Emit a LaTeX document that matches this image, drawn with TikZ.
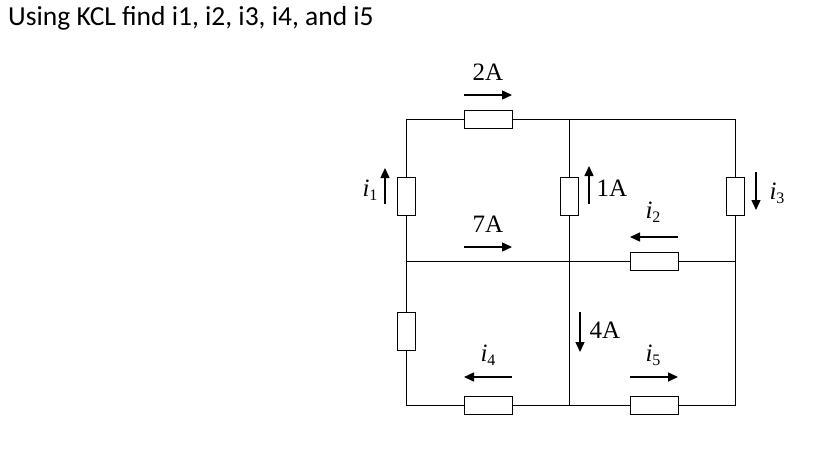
\documentclass[tikz,border=0pt]{standalone}
\usepackage{fontspec}
\setmainfont{Liberation Serif}
\newfontfamily\titlefont{Carlito}
\usetikzlibrary{arrows.meta}
\newcommand{\cursym}[1]{{\itshape i}\raisebox{-4pt}{\fontsize{16}{18}\selectfont #1}}
\begin{document}
\begin{tikzpicture}[x=1pt,y=-1pt,
  wire/.style={line width=0.8pt},
  resh/.style={draw,line width=0.8pt,fill=white,minimum width=48pt,minimum height=18pt,inner sep=0pt},
  resv/.style={draw,line width=0.8pt,fill=white,minimum width=18pt,minimum height=38pt,inner sep=0pt},
  cur/.style={-{Triangle[length=10pt,width=9pt]},line width=1.4pt},
  lab/.style={font=\fontsize{25}{28}\selectfont,inner sep=0pt}]
\useasboundingbox (0,0) rectangle (816,476);
\node[anchor=west,inner sep=0pt,font=\titlefont\fontsize{27.5}{32}\selectfont] (title) at (8,18) {Using KCL find i1, i2, i3, i4, and i5};
\coordinate (TL) at (406,119); \coordinate (TM) at (569,119); \coordinate (TR) at (735,119);
\coordinate (ML) at (406,261); \coordinate (MM) at (569,261); \coordinate (MR) at (735,261);
\coordinate (BL) at (406,405); \coordinate (BM) at (569,405); \coordinate (BR) at (735,405);
\draw[wire] (TL)--(TR)--(BR)--(BL)--cycle;
\draw[wire] (TM)--(BM); \draw[wire] (ML)--(MR);
\node[resh] (r1) at (488,119) {};
\node[resv] (r2) at (406,196) {};
\node[resv] (r3) at (569,196) {};
\node[resv] (r4) at (735,196) {};
\node[resh] (r5) at (654,261) {};
\node[resv] (r6) at (406,331) {};
\node[resh] (r7) at (488,405) {};
\node[resh] (r8) at (654,405) {};
\coordinate (a1s) at (464,95); \coordinate (a1e) at (512,95); \draw[cur] (a1s)--(a1e);
\node[lab] (l2A) at (488,72) {2A};
\coordinate (a2s) at (464,247); \coordinate (a2e) at (512,247); \draw[cur] (a2s)--(a2e);
\node[lab] (l7A) at (488,224) {7A};
\coordinate (a3s) at (385,204); \coordinate (a3e) at (385,168); \draw[cur] (a3s)--(a3e);
\node[lab] (li1) at (370,190) {\cursym{1}};
\coordinate (a4s) at (589,204); \coordinate (a4e) at (589,166); \draw[cur] (a4s)--(a4e);
\node[lab] (l1A) at (612,188) {1A};
\coordinate (a5s) at (756,172); \coordinate (a5e) at (756,210); \draw[cur] (a5s)--(a5e);
\node[lab] (li3) at (777,193) {\cursym{3}};
\coordinate (a6s) at (678,237); \coordinate (a6e) at (630,237); \draw[cur] (a6s)--(a6e);
\node[lab] (li2) at (653,212) {\cursym{2}};
\coordinate (a7s) at (580,312); \coordinate (a7e) at (580,352); \draw[cur] (a7s)--(a7e);
\node[lab] (l4A) at (605,330) {4A};
\coordinate (a8s) at (512,377); \coordinate (a8e) at (464,377); \draw[cur] (a8s)--(a8e);
\node[lab] (li4) at (488,355) {\cursym{4}};
\coordinate (a9s) at (630,377); \coordinate (a9e) at (678,377); \draw[cur] (a9s)--(a9e);
\node[lab] (li5) at (653,355) {\cursym{5}};
\end{tikzpicture}
\end{document}
